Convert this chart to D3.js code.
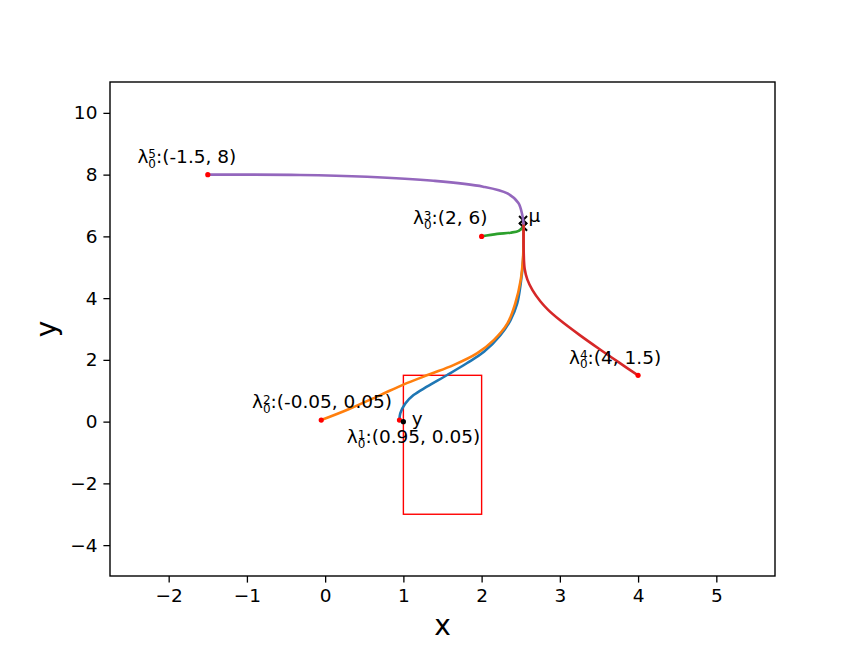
<!DOCTYPE html>
<html>
<head>
<meta charset="utf-8">
<script src="https://cdn.jsdelivr.net/npm/d3@7"></script>
<style>
  html, body { margin: 0; padding: 0; background: #fff; }
  svg { display: block; font-family: "DejaVu Sans", sans-serif; }
</style>
</head>
<body>
<svg id="chart" width="863" height="651"></svg>
<script>
// ---------------- data ----------------
const xTicks = [-2, -1, 0, 1, 2, 3, 4, 5];
const yTicks = [-4, -2, 0, 2, 4, 6, 8, 10];
const xDomain = [-2.75, 5.75];
const yDomain = [-5, 11];

// starting points λ0^k
const startIds = [1, 2, 3, 4, 5];
const startX = [0.95, -0.05, 2, 4, -1.5];
const startY = [0.05, 0.05, 6, 1.5, 8];
const startText = ["(0.95, 0.05)", "(-0.05, 0.05)", "(2, 6)", "(4, 1.5)", "(-1.5, 8)"];

// trajectories (one per starting point)
const traj1 = [[0.95, 0.05], [0.96, 0.27], [1.025, 0.59], [1.13, 0.86], [1.30, 1.13], [1.56, 1.51], [1.81, 1.89],
               [2.03, 2.26], [2.24, 2.80], [2.37, 3.29], [2.455, 3.83], [2.50, 4.48], [2.53, 5.23], [2.536, 5.9], [2.536, 6.42]];
const traj2 = [[-0.05, 0.05], [0.30, 0.40], [0.705, 0.86], [1.00, 1.20], [1.345, 1.54], [1.64, 1.83], [1.94, 2.21],
               [2.155, 2.64], [2.33, 3.18], [2.43, 3.83], [2.50, 4.59], [2.53, 5.34], [2.536, 5.9], [2.536, 6.42]];
const traj3 = [[2, 6], [2.20, 6.08], [2.37, 6.12], [2.475, 6.18], [2.53, 6.31], [2.536, 6.42]];
const traj4 = [[4, 1.5], [3.75, 1.925], [3.5, 2.36], [3.25, 2.81], [3.0, 3.29], [2.85, 3.62], [2.75, 3.9],
               [2.65, 4.26], [2.585, 4.6], [2.55, 4.95], [2.538, 5.5], [2.536, 6.0], [2.536, 6.42]];
const traj5 = [[-1.5, 8], [-0.32, 7.99], [0.535, 7.93], [1.384, 7.80], [2.02, 7.61], [2.33, 7.39], [2.47, 7.08],
               [2.52, 6.69], [2.536, 6.42]];
const trajectories = [traj1, traj2, traj3, traj4, traj5];
const trajColors = ["#1f77b4", "#ff7f0e", "#2ca02c", "#d62728", "#9467bd"];

// μ estimate markers and target y
const muX = [2.53, 2.53];
const muY = [6.53, 6.31];
const targetY = [1, 0];
// box
const boxX = [1, 2];
const boxY = [-3, 1.5];

// ---------------- layout ----------------
const L = { left: 110, right: 775, top: 82, bottom: 576 };
const labelOffset = [[-52.6, 23.4], [-69.3, -11.6], [-68.7, -11.9], [-69.1, -11.8], [-70.4, -11.6]];
const FS = 18.5, SFS = 12;

const svg = d3.select("#chart");
const x = d3.scaleLinear().domain(xDomain).range([L.left, L.right]);
const y = d3.scaleLinear().domain(yDomain).range([L.bottom, L.top]);

// clip
svg.append("defs").append("clipPath").attr("id", "clip")
  .append("rect").attr("x", L.left).attr("y", L.top)
  .attr("width", L.right - L.left).attr("height", L.bottom - L.top);

const plot = svg.append("g").attr("clip-path", "url(#clip)");

// box
plot.append("rect")
  .attr("x", x(boxX[0])).attr("y", y(boxY[1]))
  .attr("width", x(boxX[1]) - x(boxX[0])).attr("height", y(boxY[0]) - y(boxY[1]))
  .attr("fill", "none").attr("stroke", "#ff0000").attr("stroke-width", 1.4);

// μ markers (x shaped)
const ms = 4;
muX.forEach((mx, i) => {
  const cx = x(mx), cy = y(muY[i]);
  plot.append("path")
    .attr("d", `M${cx - ms},${cy - ms}L${cx + ms},${cy + ms}M${cx - ms},${cy + ms}L${cx + ms},${cy - ms}`)
    .attr("stroke", "#000").attr("stroke-width", 2);
});

// trajectories
const line = d3.line().x(d => x(d[0])).y(d => y(d[1])).curve(d3.curveCatmullRom.alpha(0.5));
trajectories.forEach((t, i) => {
  plot.append("path").attr("d", line(t))
    .attr("fill", "none").attr("stroke", trajColors[i]).attr("stroke-width", 2.6)
    .attr("stroke-linecap", "square");
});

// start points
startX.forEach((sx, i) => {
  plot.append("circle").attr("cx", x(sx)).attr("cy", y(startY[i])).attr("r", 2.6).attr("fill", "#ff0000");
});

// target y point
plot.append("circle").attr("cx", x(targetY[0])).attr("cy", y(targetY[1])).attr("r", 2.6).attr("fill", "#000");

// axes
const xAxis = svg.append("g").attr("transform", `translate(0,${L.bottom})`)
  .call(d3.axisBottom(x).tickValues(xTicks).tickSize(6.6).tickPadding(6).tickSizeOuter(0));
const yAxis = svg.append("g").attr("transform", `translate(${L.left},0)`)
  .call(d3.axisLeft(y).tickValues(yTicks).tickSize(6.6).tickPadding(6).tickSizeOuter(0));
[xAxis, yAxis].forEach(a => {
  a.select(".domain").remove();
  a.selectAll("line").attr("stroke", "#000").attr("stroke-width", 1.3);
  a.selectAll("text").attr("font-size", FS).attr("font-family", "DejaVu Sans").attr("fill", "#000");
});

// frame
svg.append("rect").attr("x", L.left).attr("y", L.top)
  .attr("width", L.right - L.left).attr("height", L.bottom - L.top)
  .attr("fill", "none").attr("stroke", "#000").attr("stroke-width", 1.4);

// annotations
startX.forEach((sx, i) => {
  const t = svg.append("text")
    .attr("x", x(sx) + labelOffset[i][0]).attr("y", y(startY[i]) + labelOffset[i][1])
    .attr("font-size", FS).attr("fill", "#000");
  t.append("tspan").text("λ");
  t.append("tspan").attr("font-size", SFS).attr("dy", -4.6).text(startIds[i]);
  t.append("tspan").attr("font-size", SFS).attr("dx", -SFS * 0.636).attr("dy", 9.2).text("0");
  t.append("tspan").attr("dy", -4.6).text(":" + startText[i]);
});

svg.append("text").attr("x", x(targetY[0]) + 8.4).attr("y", y(targetY[1]) + 3.6)
  .attr("font-size", FS).text("y");
svg.append("text").attr("x", x(2.536) + 5).attr("y", y(6.45) + 0)
  .attr("font-size", FS).text("μ");

// axis labels
svg.append("text").attr("x", (L.left + L.right) / 2).attr("y", 635)
  .attr("text-anchor", "middle").attr("font-size", 28).text("x");
svg.append("text").attr("transform", `translate(56,${(L.top + L.bottom) / 2}) rotate(-90)`)
  .attr("text-anchor", "middle").attr("font-size", 28).text("y");
</script>
</body>
</html>
